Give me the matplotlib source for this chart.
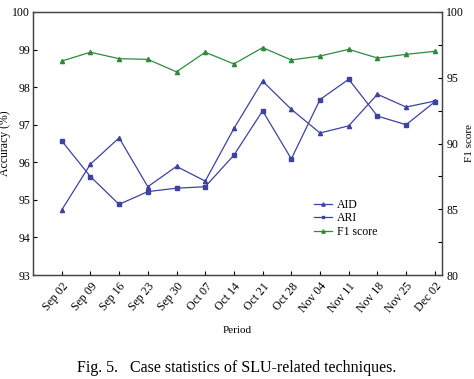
import matplotlib
matplotlib.use("Agg")
import matplotlib.pyplot as plt

# периоды по оси X
periods = ['Sep 02', 'Sep 09', 'Sep 16', 'Sep 23', 'Sep 30', 'Oct 07', 'Oct 14',
           'Oct 21', 'Oct 28', 'Nov 04', 'Nov 11', 'Nov 18', 'Nov 25', 'Dec 02']

# точность (левая ось)
aid = [94.73, 95.95, 96.65, 95.35, 95.89, 95.50, 96.90,
       98.16, 97.41, 96.78, 96.97, 97.81, 97.47, 97.63]
ari = [96.57, 95.62, 94.88, 95.22, 95.31, 95.35, 96.19,
       97.37, 96.09, 97.67, 98.21, 97.23, 97.00, 97.61]

# F1 (правая ось)
f1 = [96.27, 96.94, 96.45, 96.40, 95.45, 96.94, 96.05,
      97.29, 96.35, 96.65, 97.16, 96.50, 96.78, 97.01]

blue = '#3d43a0'
green = '#2e8b3e'

plt.rcParams['font.family'] = ['Liberation Serif', 'DejaVu Serif']

fig = plt.figure(figsize=(4.74, 3.79), dpi=100)
ax = fig.add_axes([33 / 474, 1 - 275 / 379, (442 - 33) / 474, (275 - 12) / 379])
ax2 = ax.twinx()

x = list(range(len(periods)))
l1, = ax.plot(x, aid, color=blue, lw=0.9, marker='^', ms=3, label='AID')
l2, = ax.plot(x, ari, color=blue, lw=0.9, marker='s', ms=2.5, label='ARI')
l3, = ax2.plot(x, f1, color=green, lw=0.9, marker='^', ms=3, label='F1 score')

ax.set_xlim(-1, len(periods) - 0.75)
ax.set_ylim(93, 100)
ax2.set_ylim(80, 100)
ax.set_yticks(range(93, 101))
ax2.set_yticks([80, 85, 90, 95, 100])
ax2.set_yticks([82.5, 87.5, 92.5, 97.5], minor=True)

ax.set_xticks(x)
ax.set_xticklabels(periods, rotation=50, ha='right', rotation_mode='anchor', fontsize=8.5)
ax.tick_params(axis='y', labelsize=8.5, direction='in', length=3, width=0.8, pad=2)
ax.tick_params(axis='x', direction='in', length=3, width=0.8, pad=4)
ax2.tick_params(axis='y', labelsize=8.5, direction='in', length=3, width=0.8, pad=3)
ax2.tick_params(axis='y', which='minor', direction='in', length=3, width=0.8)

ax.set_ylabel('Accuracy (%)', fontsize=8.5, labelpad=1)
ax2.set_ylabel('F1 score', fontsize=8, labelpad=1)
ax.set_xlabel('Period', fontsize=8, labelpad=8)

for a in (ax, ax2):
    for s in a.spines.values():
        s.set_color('#444444')
        s.set_linewidth(0.9)

ax.legend(handles=[l1, l2, l3], loc='center left', bbox_to_anchor=(0.66, 0.215),
          frameon=False, fontsize=8.5, handlelength=1.6, handletextpad=0.4,
          labelspacing=0.15, markerscale=0.8)

fig.text(0.5, 0.018, 'Fig. 5.   Case statistics of SLU-related techniques.',
         ha='center', fontsize=11.5)

fig.savefig('out.png', dpi=100)
